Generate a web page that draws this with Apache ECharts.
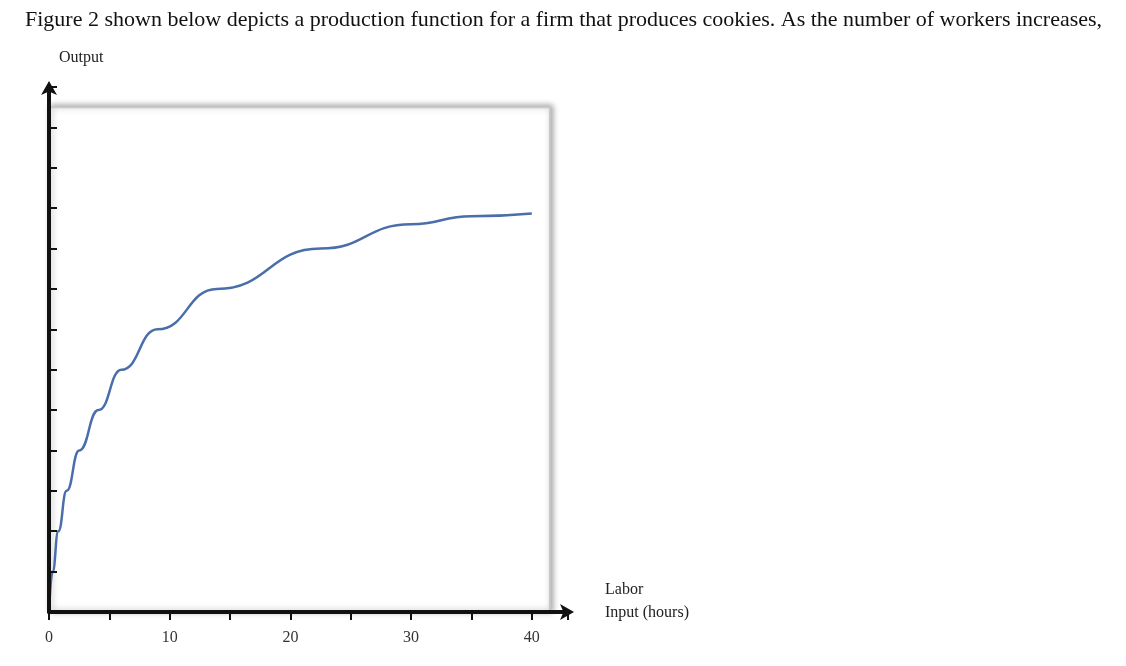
<!DOCTYPE html>
<html>
<head>
<meta charset="utf-8">
<script src="https://cdn.jsdelivr.net/npm/echarts@6/dist/echarts.min.js"></script>
<style>html,body{margin:0;padding:0;background:#fff}#chart{width:1126px;height:666px}</style>
</head>
<body>
<div id="chart"></div>
<script>
    // 劳动投入（小时）与产出
    var laborHours = [0, 0.3, 0.77, 1.46, 2.5, 4.1, 6.0, 9.0, 13.9, 22.5, 30, 35, 40];
    var output = [0, 1, 2, 3, 4, 5, 6, 7, 8, 9, 9.6, 9.8, 9.87];
    var xTickLabels = [0, 10, 20, 30, 40];

    var points = [];
    for (var i = 0; i < laborHours.length; i++) {
        points.push([laborHours[i], output[i]]);
    }

    var serif = '"Liberation Serif", "DejaVu Serif", serif';
    var axisLineStyle = {lineStyle: {color: '#111', width: 4}, symbol: ['none', 'arrow'], symbolSize: [12, 14], symbolOffset: [0, 6]};

    var option = {
        animation: false,
        textStyle: {fontFamily: serif},
        title: [
            {
                text: 'Figure 2 shown below depicts a production function for a firm that produces cookies. As the number of workers increases,',
                left: 20, top: 4,
                textStyle: {fontFamily: serif, fontSize: 22, fontWeight: 'normal', color: '#111'}
            },
            {
                text: 'Output', left: 54, top: 45,
                textStyle: {fontFamily: serif, fontSize: 16, fontWeight: 'normal', color: '#222'}
            },
            {
                text: 'Labor\nInput (hours)', left: 600, top: 573,
                textStyle: {fontFamily: serif, fontSize: 16, fontWeight: 'normal', color: '#222', lineHeight: 23}
            }
        ],
        grid: {left: 49, right: 558, top: 87, bottom: 54},
        xAxis: {
            type: 'value', min: 0, max: 43, interval: 5, z: 10,
            splitLine: {show: false},
            axisLine: axisLineStyle,
            axisTick: {length: 8, lineStyle: {color: '#111', width: 2}},
            axisLabel: {
                margin: 18, fontSize: 16, color: '#333', fontFamily: serif,
                formatter: function (v) {
                    return xTickLabels.indexOf(v) >= 0 ? String(v) : '';
                }
            }
        },
        yAxis: {
            type: 'value', min: 0, max: 13, interval: 1, z: 10,
            splitLine: {show: false},
            axisLine: axisLineStyle,
            axisTick: {inside: true, length: 8, lineStyle: {color: '#111', width: 2}},
            axisLabel: {show: false}
        },
        series: [{
            type: 'line',
            data: points,
            smooth: true,
            smoothMonotone: 'x',
            showSymbol: false,
            lineStyle: {color: '#4a6ea9', width: 2.5},
            z: 3,
            markArea: {
                silent: true,
                itemStyle: {color: '#fff', borderColor: '#c8c8c8', borderWidth: 2, shadowColor: 'rgba(0,0,0,0.35)', shadowBlur: 6, shadowOffsetX: 2, shadowOffsetY: -1},
                data: [[{coord: [0, 0]}, {coord: [41.5, 12.5]}]]
            }
        }]
    };

    var myChart = echarts.init(document.getElementById('chart'));
    myChart.setOption(option);
</script>
</body>
</html>
